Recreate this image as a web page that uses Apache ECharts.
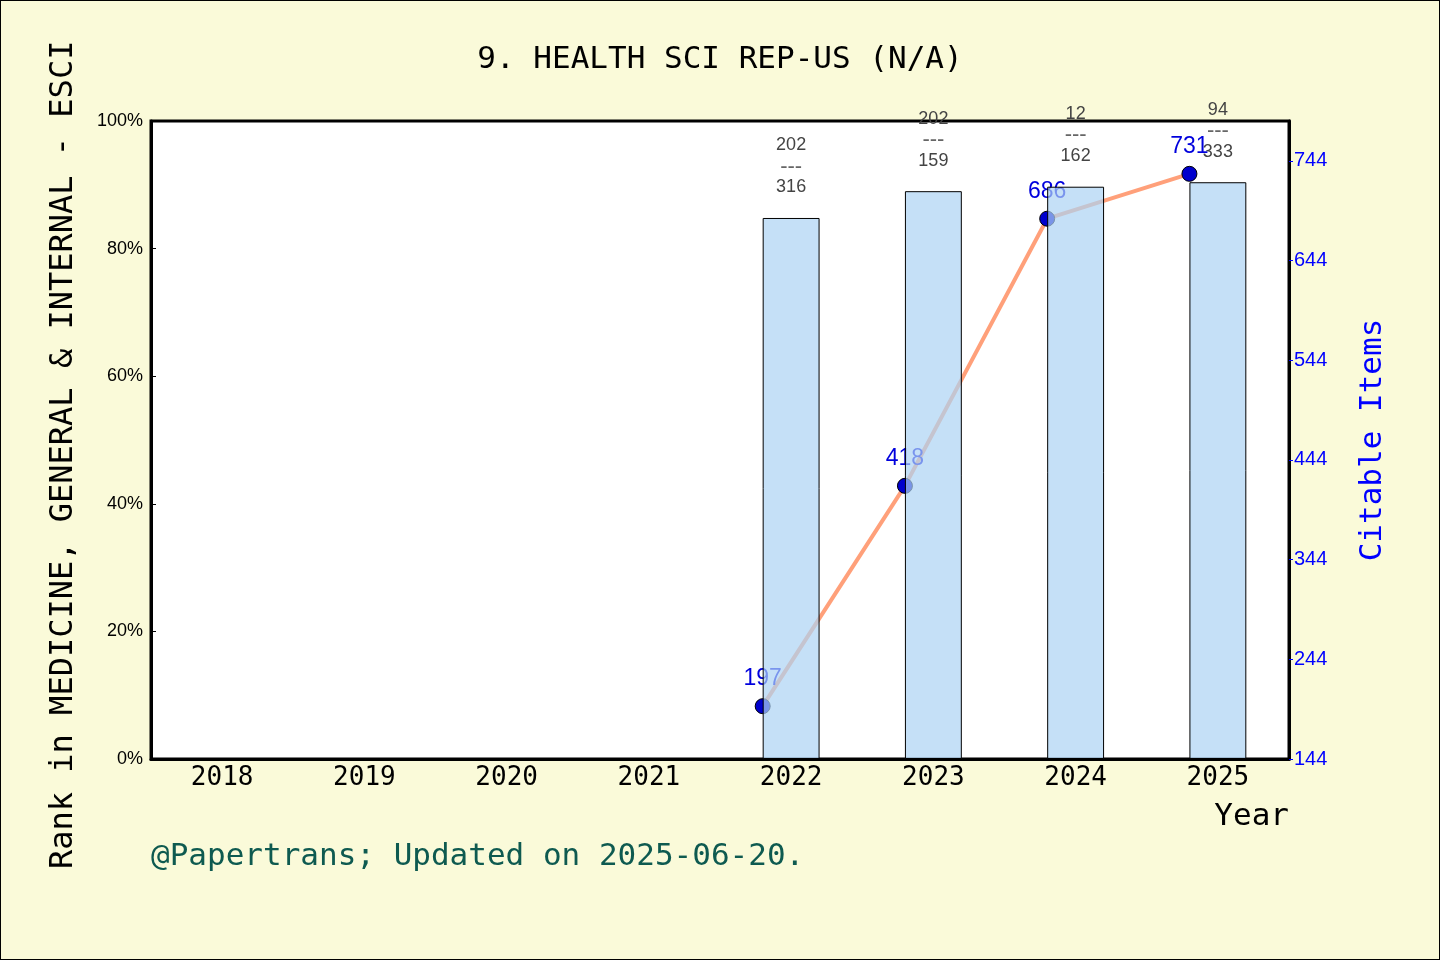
<!DOCTYPE html>
<html>
<head>
<meta charset="utf-8">
<script src="https://cdn.jsdelivr.net/npm/echarts@6/dist/echarts.min.js"></script>
<style>
  html, body { margin: 0; padding: 0; background: #FAFAD9; }
  #chart { width: 1440px; height: 960px; box-sizing: border-box; border: 1px solid #000; }
</style>
</head>
<body>
<div id="chart"></div>
<script>
const years = ['2018', '2019', '2020', '2021', '2022', '2023', '2024', '2025']
const rankPercent = [null, null, null, null, 84.8, 89.0, 89.7, 90.4]
const rankNum = [null, null, null, null, '202', '202', '12', '94']
const rankTotal = [null, null, null, null, '316', '159', '162', '333']
const citableYears = [2022, 2023, 2024, 2025]
const citableItems = [197, 418, 686, 731]

const MONO = '"DejaVu Sans Mono", monospace'

const chart = echarts.init(document.getElementById('chart'))

const barData = rankPercent.map((v, i) => ({
  value: v,
  label: v == null ? { show: false } : {
    show: true,
    formatter: `{n|${rankNum[i]}}\n{d|---}\n{n|${rankTotal[i]}}`
  }
}))

const lineData = citableYears.map((y, i) => [y - 0.2, citableItems[i]])

chart.setOption({
  backgroundColor: '#FAFAD9',
  animation: false,
  title: {
    text: '9. HEALTH SCI REP-US (N/A)',
    left: 'center',
    top: 38,
    textStyle: { fontFamily: MONO, fontSize: 31, fontWeight: 'normal', color: '#000' }
  },
  grid: {
    left: 150, right: 150, top: 120, bottom: 200,
    show: true, backgroundColor: '#fff', borderColor: '#000', borderWidth: 3
  },
  xAxis: [
    {
      type: 'category',
      data: years,
      axisLine: { lineStyle: { color: '#000', width: 3 } },
      axisTick: { inside: true, length: 5, lineStyle: { color: '#000' } },
      axisLabel: { fontFamily: MONO, fontSize: 26, color: '#000', margin: 6 }
    },
    {
      type: 'value',
      min: 2017.5,
      max: 2025.5,
      show: false
    }
  ],
  yAxis: [
    {
      type: 'value',
      min: 0, max: 100, interval: 20,
      splitLine: { show: false },
      axisLine: { show: true, lineStyle: { color: '#000', width: 3 } },
      axisTick: { show: true, inside: true, length: 5, lineStyle: { color: '#000' } },
      axisLabel: { formatter: '{value}%', fontFamily: 'Liberation Sans', fontSize: 18, color: '#000', margin: 8 }
    },
    {
      type: 'value',
      min: 144, max: 784, interval: 100,
      position: 'right',
      splitLine: { show: false },
      axisLine: { show: true, lineStyle: { color: '#000', width: 3 } },
      axisTick: { show: true, length: 4, lineStyle: { color: '#0000FF' } },
      axisLabel: {
        showMaxLabel: false,
        fontFamily: 'Liberation Sans', fontSize: 20, color: '#0000FF', margin: 5,
        formatter: v => (v === 784 ? '' : String(v))
      },
      name: 'Citable Items',
      nameLocation: 'middle',
      nameRotate: 90,
      nameGap: 68,
      nameTextStyle: { fontFamily: MONO, fontSize: 31, color: '#0000FF' }
    }
  ],
  graphic: [
    {
      type: 'text',
      x: 47,
      y: 868,
      rotation: Math.PI / 2,
      style: {
        text: 'Rank in MEDICINE, GENERAL & INTERNAL - ESCI',
        font: '32px "DejaVu Sans Mono", monospace',
        fill: '#000'
      }
    },
    {
      type: 'text',
      right: 150,
      top: 800,
      style: { text: 'Year', font: '31px "DejaVu Sans Mono", monospace', fill: '#000' }
    },
    {
      type: 'text',
      left: 150,
      top: 840,
      style: { text: '@Papertrans; Updated on 2025-06-20.', font: '31px "DejaVu Sans Mono", monospace', fill: '#0E5A50' }
    }
  ],
  series: [
    {
      type: 'line',
      xAxisIndex: 1,
      yAxisIndex: 1,
      z: 2,
      data: lineData,
      lineStyle: { color: '#FFA07A', width: 4 },
      symbol: 'circle',
      symbolSize: 15,
      itemStyle: { color: '#0000CD', borderColor: '#000', borderWidth: 1 },
      label: {
        show: true,
        position: 'top',
        distance: 8,
        formatter: p => String(p.value[1]),
        fontFamily: 'Liberation Sans', fontSize: 23, color: '#0000DD'
      }
    },
    {
      type: 'bar',
      xAxisIndex: 0,
      yAxisIndex: 0,
      z: 3,
      data: barData,
      barWidth: '40%',
      itemStyle: { color: 'rgba(172,211,244,0.7)', borderColor: '#000', borderWidth: 1 },
      label: {
        position: 'top',
        distance: 20,
        align: 'center',
        rich: {
          n: { fontFamily: 'Liberation Sans', fontSize: 18, color: '#444', lineHeight: 21 },
          d: { fontFamily: 'Liberation Sans', fontSize: 22, color: '#666', lineHeight: 21, letterSpacing: 2 }
        }
      }
    }
  ]
})
</script>
</body>
</html>
